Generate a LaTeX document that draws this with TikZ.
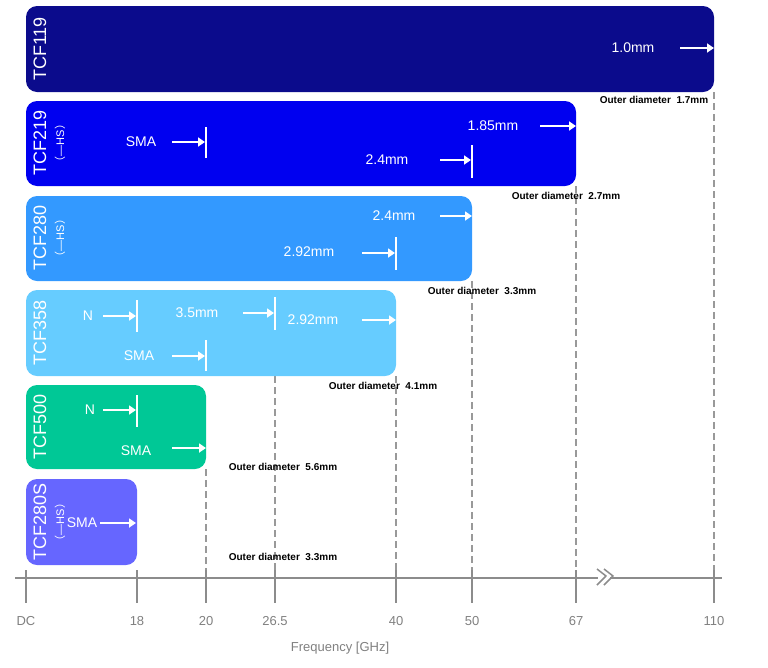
\documentclass[tikz,border=0pt]{standalone}
\usepackage{fontspec}
\setmainfont{Liberation Sans}
\newfontfamily\cjk{Noto Sans CJK SC}
\usetikzlibrary{arrows.meta}
\begin{document}
\begin{tikzpicture}[x=1pt,y=-1pt,
 bar/.style={rounded corners=11pt,draw=none},
 wt/.style={text=white,font=\fontsize{14}{15}\selectfont,inner sep=0pt},
 od/.style={font=\bfseries\fontsize{10}{11}\selectfont,inner sep=0pt},
 arr/.style={white,line width=2.5pt,-{Triangle[length=7pt,width=9pt]}},
 stop/.style={white,line width=2.5pt},
 gdash/.style={gray!80,line width=1.5pt,dash pattern=on 7pt off 4pt},
 tk/.style={gray!90,line width=2pt},
 tl/.style={text=gray,font=\fontsize{13}{14}\selectfont},
 vl/.style={rotate=90,text=white,inner sep=0pt},
 big/.style={font=\fontsize{18}{19}\selectfont},
 sm/.style={font=\fontsize{11}{12}\selectfont}]
\useasboundingbox (0,0) rectangle (768,667);
\definecolor{c1}{HTML}{0B0B8C}\definecolor{c2}{HTML}{0000F0}
\definecolor{c3}{HTML}{3399FF}\definecolor{c4}{HTML}{66CCFF}
\definecolor{c5}{HTML}{00C896}\definecolor{c6}{HTML}{6666FF}
% dashed lines
\draw[gdash] (714,92) -- (714,578);
\draw[gdash] (576,186) -- (576,578);
\draw[gdash] (472,281) -- (472,578);
\draw[gdash] (396,376) -- (396,578);
\draw[gdash] (275,376) -- (275,578);
\draw[gdash] (206,469) -- (206,578);
% bars
\fill[bar,c1] (26,6) rectangle (714,92);
\fill[bar,c2] (26,101) rectangle (576,186);
\fill[bar,c3] (26,196) rectangle (472,281);
\fill[bar,c4] (26,290) rectangle (396,376);
\fill[bar,c5] (26,385) rectangle (206,469);
\fill[bar,c6] (26,479) rectangle (137,565);
% vertical names
\node[vl,big] (n1) at (40,49) {TCF119};
\node[vl,big] (n2) at (40,143) {TCF219};
\node[vl,sm] (n2b) at (60,143) {{\cjk （}—HS{\cjk ）}};
\node[vl,big] (n3) at (40,238) {TCF280};
\node[vl,sm] (n3b) at (60,238) {{\cjk （}—HS{\cjk ）}};
\node[vl,big] (n4) at (40,333) {TCF358};
\node[vl,big] (n5) at (40,427) {TCF500};
\node[vl,big] (n6) at (40,522) {TCF280S};
\node[vl,sm] (n6b) at (60,522) {{\cjk （}—HS{\cjk ）}};
% TCF119
\node[wt] (a1) at (633,48) {1.0mm};
\draw[arr] (680,48) -- (714,48);
% TCF219
\node[wt] (b1) at (141,142) {SMA};
\draw[arr] (172,142) -- (205,142); \draw[stop] (206,127) -- (206,158);
\node[wt] (b2) at (493,126) {1.85mm};
\draw[arr] (540,126) -- (576,126);
\node[wt] (b3) at (387,160) {2.4mm};
\draw[arr] (440,160) -- (471,160); \draw[stop] (472,145) -- (472,178);
% TCF280
\node[wt] (c1n) at (394,216) {2.4mm};
\draw[arr] (440,216) -- (472,216);
\node[wt] (c2n) at (309,252) {2.92mm};
\draw[arr] (362,253) -- (395,253); \draw[stop] (396,237) -- (396,270);
% TCF358
\node[wt] (d1) at (88,316) {N};
\draw[arr] (103,316) -- (136,316); \draw[stop] (137,300) -- (137,332);
\node[wt] (d2) at (197,313) {3.5mm};
\draw[arr] (243,313) -- (274,313); \draw[stop] (275,297) -- (275,330);
\node[wt] (d3) at (313,320) {2.92mm};
\draw[arr] (362,320) -- (396,320);
\node[wt] (d4) at (139,356) {SMA};
\draw[arr] (172,356) -- (205,356); \draw[stop] (206,340) -- (206,371);
% TCF500
\node[wt] (e1) at (90,410) {N};
\draw[arr] (103,410) -- (136,410); \draw[stop] (137,395) -- (137,427);
\node[wt] (e2) at (136,451) {SMA};
\draw[arr] (172,448) -- (206,448);
% TCF280S
\node[wt] (f1) at (82,523) {SMA};
\draw[arr] (100,523) -- (136,523);
% outer diameters
\node[od] (o1) at (654,100) {Outer diameter\ \ 1.7mm};
\node[od] (o2) at (566,196) {Outer diameter\ \ 2.7mm};
\node[od] (o3) at (482,291) {Outer diameter\ \ 3.3mm};
\node[od] (o4) at (383,386) {Outer diameter\ \ 4.1mm};
\node[od] (o5) at (283,467) {Outer diameter\ \ 5.6mm};
\node[od] (o6) at (283,557) {Outer diameter\ \ 3.3mm};
% axis
\draw[tk] (15,578) -- (598,578);
\draw[tk] (610,578) -- (722,578);
\draw[gray!90,line width=1.5pt,line join=round] (597,569) -- (606,576) -- (597,585);
\draw[gray!90,line width=1.5pt,line join=round] (604,569) -- (613,576) -- (604,585);
\foreach \x/\l in {26/DC,137/18,206/20,275/26.5,396/40,472/50,576/67,714/110}{
  \draw[tk] (\x,570) -- (\x,603);
  \node[tl] at (\x,621) {\l};}
\node[tl] (fx) at (340,648) {Frequency [GHz]};
\end{tikzpicture}
\end{document}
